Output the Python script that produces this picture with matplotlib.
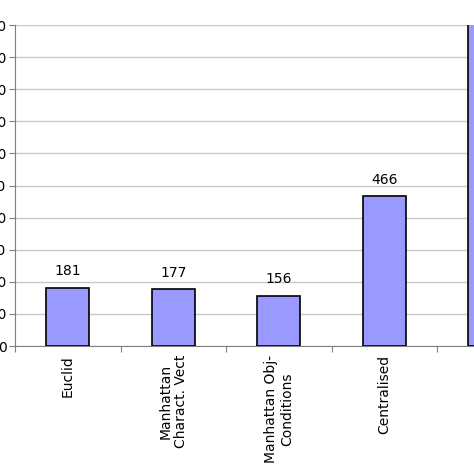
import matplotlib
matplotlib.use("Agg")
import matplotlib.pyplot as plt

categories = ["Euclid", "Manhattan\nCharact. Vect", "Manhattan Obj-\nConditions", "Centralised", ""]
values = [181, 177, 156, 466, 1007]
labels = ["181", "177", "156", "466", "1007"]
yticks = list(range(0, 1001, 100))

fig = plt.figure(figsize=(4.74, 4.74), dpi=100)
ax = fig.add_axes([15/474, 128/474, 459/474, 321/474])
x = list(range(len(values)))
ax.bar(x, values, width=0.41, color="#9999ff", edgecolor="black", linewidth=1.2, zorder=3)
ax.set_xlim(-0.5, 3.85)
ax.set_ylim(0, 1000)
ax.set_yticks(yticks)
ax.set_yticklabels([str(t) for t in yticks], fontsize=10)
ax.yaxis.grid(True, color="#c8c8c8", linewidth=1, zorder=0)
ax.set_xticks([i + 0.5 for i in range(-1, 4)], minor=False)
ax.set_xticklabels([])
ax.tick_params(axis="x", length=4, color="#808080")
ax.tick_params(axis="y", length=4, color="#808080", pad=2)
for i, c in enumerate(categories):
    ax.text(i, -28, c, rotation=90, ha="center", va="top", fontsize=10, multialignment="center")
for i, (v, l) in enumerate(zip(values, labels)):
    ax.text(i, v + 30, l, ha="center", va="bottom", fontsize=10, clip_on=False)
for s in ["top", "right"]:
    ax.spines[s].set_visible(False)
for s in ["left", "bottom"]:
    ax.spines[s].set_color("#808080")
fig.savefig("out.png", dpi=100)
